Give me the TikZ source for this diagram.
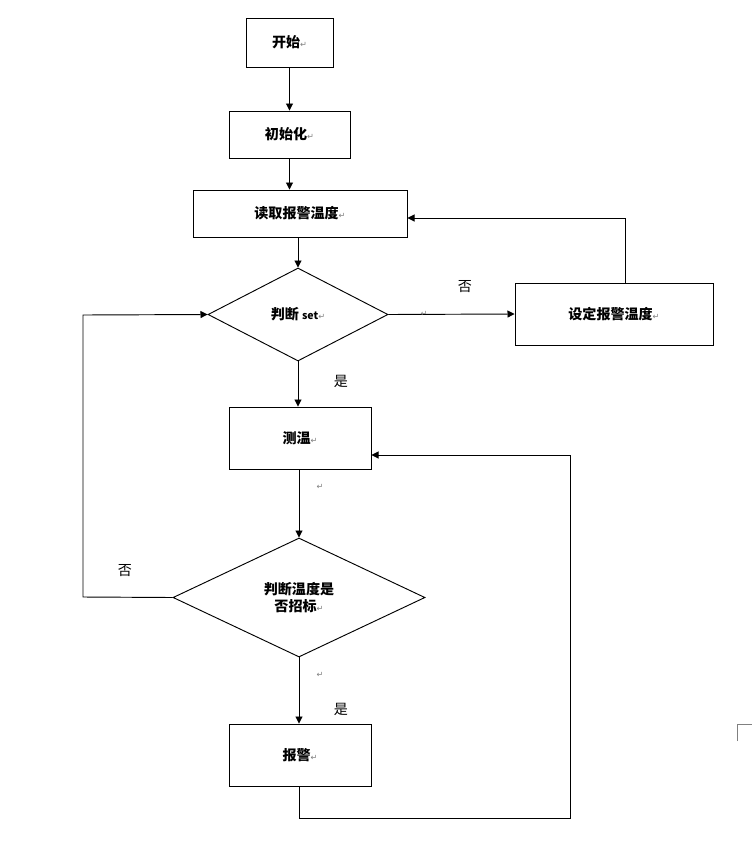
\documentclass[tikz,border=0pt]{standalone}
\usepackage{fontspec}
\newfontfamily\cjk{Noto Sans CJK SC}
\newfontfamily\dvs{DejaVu Sans}
\usetikzlibrary{shapes.geometric,arrows.meta}
\begin{document}
\begin{tikzpicture}[x=0.03cm,y=-0.03cm,
 lab/.style={font=\cjk\fontsize{12}{14}\selectfont},
 rm/.style={font=\dvs\fontsize{7}{8}\selectfont,text=gray},
 arr/.style={thick,-{Triangle[length=6pt,width=6pt]}},
 nd/.style={draw,thick,font=\cjk\bfseries\fontsize{12}{15}\selectfont}]
\useasboundingbox (0,0) rectangle (752,858);
\newcommand{\rr}{{\dvs\mdseries\color{gray}\fontsize{7}{8}\selectfont↵}}
\node[nd,minimum width=87*0.03cm,minimum height=49*0.03cm] (a) at (289.5,42.5) {开始\rr};
\node[nd,minimum width=121*0.03cm,minimum height=47*0.03cm] (b) at (289.5,134.5) {初始化\rr};
\node[nd,minimum width=214*0.03cm,minimum height=47*0.03cm] (c) at (300,213.5) {读取报警温度\rr};
\node[nd,diamond,aspect=1.94,minimum width=180*0.03cm,minimum height=93*0.03cm,inner sep=0] (d) at (298,314.5) {判断 {\small set}\rr};
\node[nd,minimum width=198*0.03cm,minimum height=62*0.03cm] (e) at (614,314) {设定报警温度\rr};
\node[nd,minimum width=142*0.03cm,minimum height=62*0.03cm] (f) at (300,438) {测温\rr};
\node[nd,diamond,aspect=2.12,minimum width=252*0.03cm,minimum height=119*0.03cm,inner sep=0,align=center] (g) at (299,597.5) {判断温度是\\否招标\rr};
\node[nd,minimum width=142*0.03cm,minimum height=62*0.03cm] (h) at (300,755) {报警\rr};
\coordinate (b1) at (299,818);
\coordinate (b2) at (570,818);
\coordinate (b3) at (570,455);
\coordinate (l1) at (83,597);
\coordinate (l2) at (83,315);
\coordinate (t1) at (625,218);
\draw[arr] (a) -- (b);
\draw[arr] (b.south -| a.south) -- (c.north -| a.south);
\draw[arr] (c.south -| d.north) -- (d);
\draw[arr] (d) -- (f.north -| d.south);
\draw[arr] (f.south -| g.north) -- (g);
\draw[arr] (g) -- (h.north -| g.south);
\draw[arr] (d.east) -- (e.west);
\draw[arr] (e.north -| t1) -- (t1) -- (c.east |- t1);
\draw[arr] (g.west) -- (l1) -- (l2) -- (d.west);
\draw[arr] (h.south -| b1) -- (b1) -- (b2) -- (b3) -- (f.east |- b3);
\node[lab] (n1) at (465,287) {否};
\node[lab] (n2) at (341,381) {是};
\node[lab] (n3) at (125,571) {否};
\node[lab] (n4) at (341,709) {是};
\node[rm] (r1) at (424,314) {↵};
\node[rm] (r2) at (320,487) {↵};
\node[rm] (r3) at (320,675) {↵};
\draw[gray] (737,741) -- (737,724) -- (752,724);
\end{tikzpicture}
\end{document}
